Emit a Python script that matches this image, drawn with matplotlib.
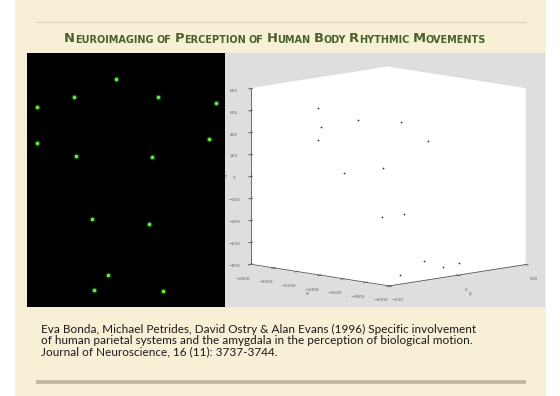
import matplotlib
matplotlib.use("Agg")
import matplotlib.pyplot as plt
from matplotlib.patches import Rectangle
from matplotlib import font_manager
from mpl_toolkits.mplot3d import Axes3D  # noqa

# ---------------- data ----------------
title_words = ["Neuroimaging", "of", "Perception", "of", "Human", "Body", "Rhythmic", "Movements"]
citation_lines = [
    "Eva Bonda, Michael Petrides, David Ostry & Alan Evans (1996) Specific involvement",
    "of human parietal systems and the amygdala in the perception of biological motion.",
    "Journal of Neuroscience, 16 (11): 3737-3744.",
]
# point-light display (panel pixel coordinates)
dots_x = [89, 47, 130.7, 10.3, 188.7, 9.7, 182.3, 48.7, 125.3, 65.3, 122.3, 80.7, 66.7, 135.7]
dots_y = [26.3, 43.7, 44.3, 54.3, 50.3, 90.3, 86.3, 103.3, 104, 166.3, 170.7, 222, 237, 237.7]
# 3D marker positions
pts_x = [-2843, -3017, -3389, -2933, -2910, -3509, -3128, -3237, -3461, -3417, -3591, -3794, -3756, -3713]
pts_y = [-50, 100, 100, -100, -100, 200, -100, 100, -100, 100, 100, -250, 100, 250]
pts_z = [541, 433, 471, 397, 271, 301, 10, 29, -341, -357, -755, -780, -781, -782]
x_ticks = [-4000, -3800, -3600, -3400, -3200, -3000, -2800]
y_ticks = [-500, 0, 500]
z_ticks = [-800, -600, -400, -200, 0, 200, 400, 600, 800]

W, H = 560, 396
CREAM = "#f8f0d6"
GRAY = "#dedede"
GREEN_T = "#46622a"

fig = plt.figure(figsize=(W / 100, H / 100), dpi=100, facecolor="white")

# background axes in pixel coordinates
bg = fig.add_axes([0, 0, 1, 1])
bg.set_xlim(0, W)
bg.set_ylim(H, 0)
bg.axis("off")
bg.add_patch(Rectangle((15, 0), 531, H, facecolor=CREAM, edgecolor="none"))
bg.plot([36, 526], [21.5, 21.5], color="#ddd3b4", lw=0.8)
bg.plot([36, 526], [381.5, 381.5], color="#bfb79c", lw=2.6, solid_capstyle="butt")
bg.add_patch(Rectangle((225, 53), 320, 254, facecolor=GRAY, edgecolor="none"))

# title in small caps, chained pieces
names = {f.name for f in font_manager.fontManager.ttflist}
if "DejaVu Sans Condensed" in names:
    tfam = ["DejaVu Sans Condensed"]
    big, small = 10.4, 7.8
else:
    tfam = ["DejaVu Sans"]
    big, small = 9.4, 7.0
prev = None
first = True
for i, w in enumerate(title_words):
    parts = [(w[0].upper(), big), (w[1:].upper(), small)] if w[0].isupper() else [(w.upper(), small)]
    for j, (s, fs) in enumerate(parts):
        if not s:
            continue
        pad = 3.0 if (j == 0 and not first) else 0
        if first:
            prev = bg.text(64, 42, s, fontsize=fs, fontweight="heavy", family=tfam,
                           color=GREEN_T, va="baseline", ha="left")
            first = False
        else:
            prev = bg.annotate(s, xy=(1, 0), xycoords=prev, xytext=(pad, 0),
                               textcoords="offset pixels", fontsize=fs, fontweight="heavy",
                               family=tfam, color=GREEN_T, va="bottom", ha="left")

# citation
for k, line in enumerate(citation_lines):
    bg.text(41, 329 + 11.5 * k, line, fontsize=8.5, family=["Lato", "DejaVu Sans"],
            color="#1a1a1a", va="center", ha="left")

# point-light panel
ax1 = fig.add_axes([27 / W, 1 - 307 / H, 198 / W, 254 / H])
ax1.set_facecolor("black")
ax1.set_xlim(0, 198)
ax1.set_ylim(254, 0)
ax1.axis("off")
ax1.add_patch(Rectangle((0, 0), 198, 254, facecolor="black", edgecolor="none"))
ax1.scatter(dots_x, dots_y, s=18, color="#2a7a2a", alpha=0.55, linewidths=0)
ax1.scatter(dots_x, dots_y, s=6, color="#66ee44", linewidths=0)

# 3D panel
ax3 = fig.add_axes([225 / W, 1 - 307 / H, 320 / W, 254 / H], projection="3d")
ax3.set_facecolor(GRAY)
ax3.set_proj_type("ortho")
ax3.view_init(elev=9, azim=-45)
ax3.set_box_aspect((194, 192, 177), zoom=1.25)
ax3.scatter(pts_x, pts_y, pts_z, s=2, color="#333366", depthshade=False, marker="+", linewidths=0.5)
ax3.set_xlim(-2800, -4000)
ax3.set_ylim(-500, 500)
ax3.set_zlim(-800, 800)
ax3.set_xticks(x_ticks)
ax3.set_yticks(y_ticks)
ax3.set_zticks(z_ticks)
ax3.grid(False)
for axis in (ax3.xaxis, ax3.yaxis, ax3.zaxis):
    axis.set_pane_color((1, 1, 1, 1))
    axis.pane.set_edgecolor("white")
    axis.line.set_color("#555555")
    axis.line.set_linewidth(0.6)
    axis.set_tick_params(labelsize=3.2, colors="#666666", width=0.4, length=1.5, pad=-2)
ax3.zaxis.set_ticks_position("lower")
ax3.zaxis.set_label_position("lower")
ax3.set_xlabel("x", fontsize=3.5, labelpad=-12, color="#555555")
ax3.set_ylabel("y", fontsize=3.5, labelpad=-12, color="#555555")
ax3.set_zlabel("z", fontsize=3.5, labelpad=-12, color="#555555")

fig.savefig("out.png", dpi=100, facecolor="white")
